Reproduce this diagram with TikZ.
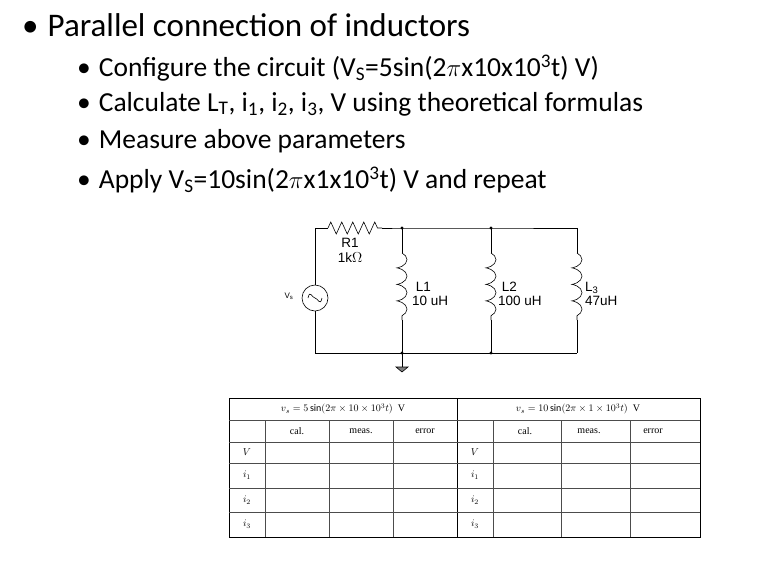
\documentclass[tikz,border=0pt]{standalone}
\usepackage{fontspec}
\setmainfont{Carlito}
\newfontfamily\schfont{Liberation Sans}
\newfontfamily\tabfont{Liberation Serif}
\usetikzlibrary{decorations.pathmorphing}
\tikzset{
 wire/.style={line width=0.6pt},
 dot/.style={circle,fill,inner sep=1.1pt},
 bul/.style={anchor=west,inner sep=0,font=\fontsize{33}{36}\selectfont},
 sub/.style={anchor=west,inner sep=0,font=\fontsize{27.5}{30}\selectfont},
 lbl/.style={inner sep=0,font=\schfont\fontsize{13.5}{14}\selectfont,align=left},
 tab/.style={inner sep=0,font=\tabfont\fontsize{10}{11}\selectfont},
 tl/.style={line width=0.5pt,black!70},
}
\begin{document}
\begin{tikzpicture}[x=1pt,y=-1pt]
\useasboundingbox (0,0) rectangle (783,582);
% bullets
\node[bul] (b0) at (22,25) {•\hspace{9pt}Parallel connection of inductors};
\node[sub] (b1) at (77,68) {•\hspace{8pt}Configure the circuit (V\textsubscript{S}=5sin(2$\pi$x10x10\textsuperscript{3}t) V)};
\node[sub] (b2) at (77,104) {•\hspace{8pt}Calculate L\textsubscript{T}, i\textsubscript{1}, i\textsubscript{2}, i\textsubscript{3}, V using theoretical formulas};
\node[sub] (b3) at (77,141) {•\hspace{8pt}Measure above parameters};
\node[sub] (b4) at (77,180) {•\hspace{8pt}Apply V\textsubscript{S}=10sin(2$\pi$x1x10\textsuperscript{3}t) V and repeat};
% circuit
\coordinate (tl) at (315,228); \coordinate (bl) at (315,353);
\coordinate (r1a) at (328,228); \coordinate (r1b) at (382,228);
\coordinate (n1) at (402,228); \coordinate (n2) at (491,228); \coordinate (tr) at (577,228);
\coordinate (g1) at (402,353); \coordinate (g2) at (491,353); \coordinate (br) at (577,353);
\node[circle,draw,wire,minimum size=26pt,inner sep=0] (src) at (315,298) {};
\draw[wire] (src.north) -- (tl) -- (r1a);
\draw[wire,decorate,decoration={zigzag,segment length=11pt,amplitude=6pt}] (r1a) -- (r1b);
\draw[wire] (r1b) -- (n1) -- (n2) -- (tr);
\draw[wire] (src.south) -- (bl) -- (g1) -- (g2) -- (br);
\draw[wire] (src.center)+(-7,0) .. controls +(2,-9) and +(-3,0) .. ++(0,0) .. controls +(3,0) and +(-2,9) .. +(7,0);
\foreach \x/\n in {402/a,491/b,577/c}{
 \draw[wire] (\x,228) -- (\x,253);
 \draw[wire,decorate,decoration={coil,aspect=0.5,segment length=16.5pt,amplitude=5pt}] (\x,253) -- (\x,320);
 \draw[wire] (\x,320) -- (\x,353);
}
\node[dot] (d1) at (n1) {}; \node[dot] (d2) at (n2) {};
\node[dot] (d3) at (g1) {}; \node[dot] (d4) at (g2) {};
\draw[wire] (g1) -- (402,367);
\draw[wire,fill=gray] (396,367) -- (408,367) -- (402,372) -- cycle;
\node[lbl,align=center] (rl) at (350,250) {R1\\[1pt]1k$\Omega$};
\node[lbl,font=\schfont\fontsize{8}{9}\selectfont] (vs) at (289,296) {V\textsubscript{s}};
\node[lbl,anchor=west] (l1) at (412,294) {\ L1\\10 uH};
\node[lbl,anchor=west] (l2) at (498,294) {\ L2\\100 uH};
\node[lbl,anchor=west] (l3) at (585,294) {L\textsubscript{3}\\47uH};
% table
\draw[tl,line width=0.9pt,black] (229,398) rectangle (700,537);
\draw[tl,line width=0.9pt,black] (457,398) -- (457,537);
\foreach \y in {420,442,463,488,512} \draw[tl] (229,\y) -- (700,\y);
\foreach \x in {265,329,393,493,561,630} \draw[tl] (\x,420) -- (\x,537);
\node[tab] (h1) at (343,409) {$v_s=5\sin(2\pi\times10\times10^3t)$ \ V};
\node[tab] (h2) at (578,409) {$v_s=10\sin(2\pi\times1\times10^3t)$ \ V};
\foreach \x/\dx in {229/0,457/228}{
 \node[tab] at (297+\dx,431) {cal.};
 \node[tab] at (361+\dx,431) {meas.};
 \node[tab] at (425+\dx,431) {error};
 \node[tab] at (\x+18,452) {$V$};
 \node[tab] at (\x+18,475) {$i_1$};
 \node[tab] at (\x+18,500) {$i_2$};
 \node[tab] at (\x+18,524) {$i_3$};
}
\end{tikzpicture}
\end{document}
